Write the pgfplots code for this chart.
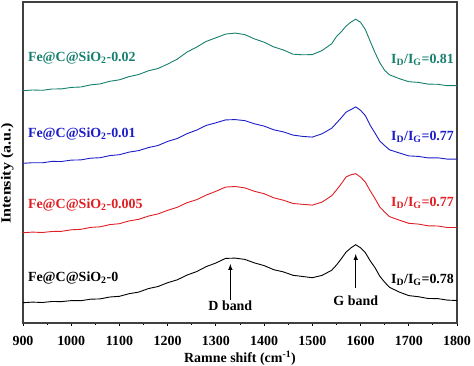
\documentclass[border=0pt]{standalone}
\usepackage{fontspec}
\setmainfont{Liberation Serif}
\usepackage{pgfplots}
\pgfplotsset{compat=1.18}
\definecolor{cteal}{RGB}{22,128,110}
\definecolor{cblue}{RGB}{28,28,200}
\definecolor{cred}{RGB}{225,30,35}
\newcommand{\lab}{\fontsize{14}{16}\selectfont\bfseries}
\begin{document}
\begin{tikzpicture}
\useasboundingbox (-23bp,-43bp) rectangle (451bp,323bp);
\begin{axis}[
  at={(0,0)}, anchor=south west,
  scale only axis, width=434bp, height=321bp,
  xmin=900, xmax=1800, ymin=2, ymax=323, y dir=reverse,
  xtick={900,1000,...,1800}, minor x tick num=1,
  ytick=\empty, xtick pos=bottom, tick align=outside,
  major tick length=2.7bp, minor tick length=1.7bp,
  every tick/.style={black, line width=0.9bp},
  axis line style={black!75, line width=1.1bp},
  /pgf/number format/assume math mode=true,
  /pgf/number format/1000 sep={},
  xticklabel style={font=\lab, anchor=base, yshift=-19.3bp},
  xlabel={Ramne shift (cm\textsuperscript{-1})},
  xlabel style={font=\lab, at={(axis description cs:0.5,0)}, anchor=base, yshift=-39.7bp},
  ylabel={\scalebox{1.15}[1]{Intensity (a.u.)}},
  ylabel style={font=\lab, inner sep=0pt, at={(axis description cs:-0.021,0.466)}, anchor=south},
  clip=false,
]
\addplot[black, line width=0.9bp] coordinates {(900,302.7)(920,302.1)(940,302.5)(960,301.5)(980,301.6)(1000,300.6)(1020,300.7)(1040,299.2)(1060,298.9)(1080,297.0)(1100,296.3)(1120,293.7)(1140,292.1)(1160,288.6)(1180,286.5)(1200,282.7)(1220,279.8)(1240,275.1)(1260,271.6)(1280,266.6)(1300,263.0)(1320,258.4)(1340,258.1)(1360,259.4)(1380,262.9)(1400,265.6)(1420,269.7)(1440,271.9)(1460,275.3)(1480,276.5)(1500,277.7)(1520,275.4)(1540,270.3)(1550,265.1)(1560,258.8)(1570,252.1)(1580,247.9)(1590,244.7)(1600,247.8)(1610,252.7)(1620,260.8)(1630,267.7)(1640,276.3)(1650,282.2)(1660,287.3)(1680,292.0)(1700,295.6)(1720,296.7)(1740,298.5)(1760,298.6)(1780,300.1)(1800,300.5)};
\addplot[cred, line width=0.9bp] coordinates {(900,232.7)(920,232.1)(940,232.5)(960,231.5)(980,231.3)(1000,229.8)(1020,229.3)(1040,227.4)(1060,226.8)(1080,224.6)(1100,223.7)(1120,220.9)(1140,219.3)(1160,216.1)(1180,213.9)(1200,210.3)(1220,207.3)(1240,202.7)(1260,199.7)(1280,195.1)(1300,191.3)(1320,187.1)(1340,186.5)(1360,187.9)(1380,191.3)(1400,193.7)(1420,197.8)(1440,200.2)(1460,203.5)(1480,204.3)(1500,205.1)(1520,202.1)(1540,195.8)(1550,190.1)(1560,183.8)(1570,176.9)(1580,174.8)(1590,173.7)(1600,177.1)(1610,182.1)(1620,190.8)(1630,198.6)(1640,207.0)(1650,212.1)(1660,216.6)(1680,220.1)(1700,223.3)(1720,224.1)(1740,225.8)(1760,226.0)(1780,227.5)(1800,227.5)};
\addplot[cblue, line width=0.9bp] coordinates {(900,163.3)(920,162.7)(940,162.8)(960,161.4)(980,161.5)(1000,160.1)(1020,159.9)(1040,158.2)(1060,157.7)(1080,155.6)(1100,154.7)(1120,152.1)(1140,150.6)(1160,147.6)(1180,145.5)(1200,141.4)(1220,138.5)(1240,133.7)(1260,130.1)(1280,125.4)(1300,122.8)(1320,119.9)(1340,119.6)(1360,120.6)(1380,123.8)(1400,126.1)(1420,129.8)(1440,131.9)(1460,135.1)(1480,136.4)(1500,137.1)(1520,133.8)(1540,128.3)(1550,123.1)(1560,117.8)(1570,112.1)(1580,109.6)(1590,106.9)(1600,110.3)(1610,115.6)(1620,125.3)(1630,133.1)(1640,141.1)(1650,145.6)(1660,149.8)(1680,152.9)(1700,155.9)(1720,156.4)(1740,157.9)(1760,157.8)(1780,159.1)(1800,159.2)};
\addplot[cteal, line width=0.9bp] coordinates {(900,90.7)(920,90.0)(940,90.3)(960,89.0)(980,88.9)(1000,87.4)(1020,87.0)(1040,84.9)(1060,83.9)(1080,81.3)(1100,79.8)(1120,76.6)(1140,74.5)(1160,70.8)(1180,68.5)(1200,64.1)(1220,59.1)(1240,52.1)(1260,47.1)(1280,41.4)(1300,37.8)(1320,34.1)(1340,33.1)(1360,34.6)(1380,38.9)(1400,42.2)(1420,46.9)(1440,50.0)(1460,54.2)(1480,54.8)(1500,54.6)(1520,50.6)(1540,43.8)(1550,36.6)(1560,31.8)(1570,26.1)(1580,22.1)(1590,19.2)(1600,22.3)(1610,29.6)(1620,41.3)(1630,52.6)(1640,62.8)(1650,70.4)(1660,74.8)(1680,78.6)(1700,81.7)(1720,82.4)(1740,84.1)(1760,84.3)(1780,85.7)(1800,85.6)};
% sample labels
\node[font=\lab, text=cteal, anchor=base west, inner sep=0pt] at (axis cs:910,61.7) {Fe@C@SiO\textsubscript{2}-0.02};
\node[font=\lab, text=cblue, anchor=base west, inner sep=0pt] at (axis cs:910,137.7) {Fe@C@SiO\textsubscript{2}-0.01};
\node[font=\lab, text=cred, anchor=base west, inner sep=0pt] at (axis cs:910,208.3) {Fe@C@SiO\textsubscript{2}-0.005};
\node[font=\lab, text=black, anchor=base west, inner sep=0pt] at (axis cs:910,281.7) {Fe@C@SiO\textsubscript{2}-0};
% ratios
\node[font=\lab, text=cteal, anchor=base east, inner sep=0pt] at (axis cs:1794,63.3) {I\textsubscript{D}/I\textsubscript{G}=0.81};
\node[font=\lab, text=cblue, anchor=base east, inner sep=0pt] at (axis cs:1794,140) {I\textsubscript{D}/I\textsubscript{G}=0.77};
\node[font=\lab, text=cred, anchor=base east, inner sep=0pt] at (axis cs:1794,206.7) {I\textsubscript{D}/I\textsubscript{G}=0.77};
\node[font=\lab, text=black, anchor=base east, inner sep=0pt] at (axis cs:1794,283.3) {I\textsubscript{D}/I\textsubscript{G}=0.78};
% band arrows
\draw[-latex, line width=1bp] (axis cs:1330,300) -- (axis cs:1330,264);
\draw[-latex, line width=1bp] (axis cs:1590,288) -- (axis cs:1590,254);
\node[font=\lab, anchor=base, inner sep=0pt] at (axis cs:1330,310) {D band};
\node[font=\lab, anchor=base, inner sep=0pt] at (axis cs:1590,305) {G band};
\end{axis}
\end{tikzpicture}
\end{document}
